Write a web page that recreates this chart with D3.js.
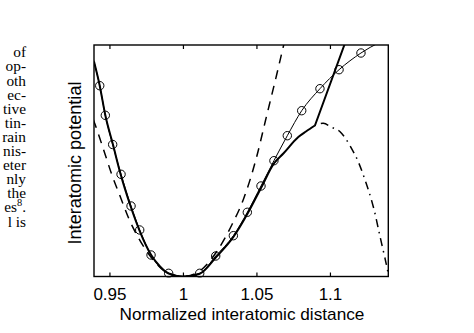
<!DOCTYPE html>
<html>
<head>
<meta charset="utf-8">
<script src="https://cdn.jsdelivr.net/npm/d3@7"></script>
<style>
  html, body { margin: 0; padding: 0; background: #fff; }
  svg { display: block; }
</style>
</head>
<body>
<svg id="chart" width="474" height="333"></svg>
<script>
// ---------- data ----------
const xTicks = [0.95, 1.0, 1.05, 1.1];
const xTickLabels = ["0.95", "1", "1.05", "1.1"];
const xLabel = "Normalized interatomic distance";
const yLabel = "Interatomic potential";

// thick solid curve (smooth part up to kink)
const solidX = [0.9395, 0.9434, 0.9472, 0.9524, 0.9576, 0.9644, 0.9704, 0.9785, 0.9844, 0.9903, 1.0, 1.0114, 1.0223, 1.0343, 1.0438, 1.0531, 1.0619, 1.0683, 1.0785, 1.0837, 1.0898];
const solidY = [215, 190.8, 161.2, 131.9, 102.2, 70.2, 46.2, 21.2, 10, 3, 0, 2.8, 19, 39.5, 62.5, 88.5, 113, 123, 139.5, 145, 151];
// thick solid straight branch from the kink
const branchX = [1.0898, 1.1098, 1.1135];
const branchY = [151, 231.5, 246.5];

// thin curve (smooth) and its circle markers
const fitX = [0.9360, 0.9395, 0.9434, 0.9472, 0.9522, 0.9579, 0.9647, 0.9706, 0.9783, 0.9903, 1.0, 1.0114, 1.0223, 1.0343, 1.0438, 1.0531, 1.0619, 1.0710, 1.0808, 1.0932, 1.1062, 1.1211, 1.1460];
const fitY = [236.7, 215, 190.8, 161.2, 132, 102.2, 70.5, 46.5, 21.5, 3.2, 0, 3.2, 20.5, 40.8, 64.2, 90.5, 115.8, 140.8, 165.8, 187.8, 206.8, 223.5, 242.1];
const markX = [0.9434, 0.9472, 0.9522, 0.9579, 0.9647, 0.9706, 0.9783, 0.9903, 1.0114, 1.0223, 1.0343, 1.0438, 1.0531, 1.0619, 1.0710, 1.0808, 1.0932, 1.1062, 1.1211];
const markY = [190.8, 161.2, 132, 102.2, 70.5, 46.5, 21.5, 3.2, 3.2, 20.5, 40.8, 64.2, 90.5, 115.8, 140.8, 165.8, 187.8, 206.8, 223.5];

// dashed curve
const dashX = [0.9390, 0.9400, 0.9472, 0.9517, 0.9574, 0.9631, 0.9699, 0.9785, 0.9903, 1.0, 1.0114, 1.0230, 1.0334, 1.0411, 1.0502, 1.0560, 1.0638, 1.0683, 1.0720];
const dashY = [157, 153, 121.5, 101.5, 79.8, 58.2, 38.2, 19, 3, 0, 5.5, 25, 52, 77, 120, 155, 202, 230, 252];

// dash-dot curve
const ddX = [1.0898, 1.0955, 1.1012, 1.1069, 1.1171, 1.1239, 1.1295, 1.1341, 1.1382, 1.1402];
const ddY = [151, 153.2, 149.2, 144.8, 121.5, 96.5, 69.8, 39.8, 13.2, -1.5];

// cropped journal text on the left
const sideText = ["of", "op-", "oth", "ec-", "tive", "tin-", "rain", "nis-", "eter", "nly", "the", "es", "l is"];

// ---------- layout ----------
const svg = d3.select("#chart");
const L = 94, T = 45, R = 388.3, B = 276.5;
const x = d3.scaleLinear().domain([0.9395, 1.1397]).range([L, R]);
const y = d3.scaleLinear().domain([0, 231.5]).range([B, T]);

svg.append("rect").attr("width", 474).attr("height", 333).attr("fill", "#fff");

const defs = svg.append("defs");
defs.append("clipPath").attr("id", "clip")
  .append("rect").attr("x", L).attr("y", T).attr("width", R - L).attr("height", B - T);
defs.append("clipPath").attr("id", "clipM")
  .append("rect").attr("x", L - 1).attr("y", T - 1).attr("width", R - L + 2).attr("height", B - T + 2);

const zip = (a, b) => a.map((v, i) => [v, b[i]]);
const g = svg.append("g").attr("clip-path", "url(#clip)");

const lineSmooth = d3.line().x(d => x(d[0])).y(d => y(d[1])).curve(d3.curveMonotoneX);
const lineStraight = d3.line().x(d => x(d[0])).y(d => y(d[1]));

// dashed
g.append("path").attr("d", lineSmooth(zip(dashX, dashY)))
  .attr("fill", "none").attr("stroke", "#000").attr("stroke-width", 1.5)
  .attr("stroke-dasharray", "9,7");

// dash-dot
g.append("path").attr("d", d3.line().x(d => x(d[0])).y(d => y(d[1])).curve(d3.curveCatmullRom)(zip(ddX, ddY)))
  .attr("fill", "none").attr("stroke", "#000").attr("stroke-width", 1.5)
  .attr("stroke-dasharray", "8,5,1.5,5").attr("stroke-dashoffset", -6);

// thick solid
g.append("path").attr("d", lineSmooth(zip(solidX, solidY)))
  .attr("fill", "none").attr("stroke", "#000").attr("stroke-width", 2);
g.append("path").attr("d", lineStraight(zip(branchX, branchY)))
  .attr("fill", "none").attr("stroke", "#000").attr("stroke-width", 2);

// thin with circles
g.append("path").attr("d", lineSmooth(zip(fitX, fitY)))
  .attr("fill", "none").attr("stroke", "#000").attr("stroke-width", 1);
svg.append("g").attr("clip-path", "url(#clipM)")
  .selectAll("circle").data(zip(markX, markY)).join("circle")
  .attr("cx", d => x(d[0])).attr("cy", d => y(d[1])).attr("r", 4.2)
  .attr("fill", "none").attr("stroke", "#000").attr("stroke-width", 1);

// frame
svg.append("rect").attr("x", L).attr("y", T).attr("width", R - L).attr("height", B - T)
  .attr("fill", "none").attr("stroke", "#000").attr("stroke-width", 1.4);

// axes (ticks inward, bottom with labels, top without)
const font = "'Liberation Sans', Arial, Helvetica, sans-serif";
const xb = svg.append("g").attr("transform", `translate(0,${B})`)
  .call(d3.axisBottom(x).tickValues(xTicks).tickFormat((d, i) => xTickLabels[i]).tickSizeInner(-4).tickSizeOuter(0).tickPadding(11));
const xt = svg.append("g").attr("transform", `translate(0,${T})`)
  .call(d3.axisTop(x).tickValues(xTicks).tickFormat("").tickSizeInner(-4).tickSizeOuter(0));
[xb, xt].forEach(a => {
  a.select(".domain").remove();
  a.selectAll("line").attr("stroke", "#000").attr("stroke-width", 1.2);
});
xb.selectAll("text").style("font-family", font).style("font-size", "17px").attr("fill", "#000");

function fitText(sel, base, target) {
  sel.style("font-size", base + "px");
  const w = sel.node().getComputedTextLength();
  if (w > 0) sel.style("font-size", (base * target / w).toFixed(2) + "px");
}

const xl = svg.append("text").attr("x", 242).attr("y", 319.5)
  .attr("text-anchor", "middle").style("font-family", font).attr("fill", "#000")
  .text(xLabel);
fitText(xl, 17, 245);
const yl = svg.append("text").attr("transform", `translate(81,163) rotate(-90)`)
  .attr("text-anchor", "middle").style("font-family", font).attr("fill", "#000")
  .text(yLabel);
fitText(yl, 17, 163);

// side text
const serif = "'Liberation Serif', 'Times New Roman', serif";
const probe = svg.append("text").style("font-family", serif).style("font-size", "15px").text("tive");
const pw = probe.node().getComputedTextLength();
probe.remove();
const sideSize = pw > 0 ? 15 * 23 / pw : 15;
sideText.forEach((s, i) => {
  const t = svg.append("text").attr("x", 26).attr("y", 57.3 + i * 14.1)
    .attr("text-anchor", "end").style("font-family", serif)
    .style("font-size", sideSize + "px").attr("fill", "#000");
  if (i === 11) {
    t.append("tspan").text(s);
    t.append("tspan").style("font-size", (sideSize * 0.68) + "px").attr("dy", -6).text("8");
    t.append("tspan").attr("dy", 6).text(".");
  } else {
    t.text(s);
  }
});
</script>
</body>
</html>
